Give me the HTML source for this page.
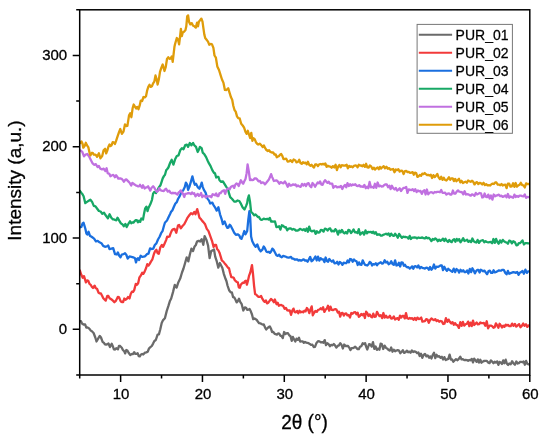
<!DOCTYPE html>
<html><head><meta charset="utf-8"><style>
html,body{margin:0;padding:0;background:#fff;width:550px;height:443px;overflow:hidden}
svg{display:block}
</style></head><body>
<svg width="550" height="443" viewBox="0 0 550 443"><rect width="550" height="443" fill="#fff"/><defs><clipPath id="c"><rect x="79.7" y="9.8" width="450.09999999999997" height="365.2"/></clipPath></defs><g clip-path="url(#c)" fill="none" stroke-width="2.3" stroke-linejoin="round" stroke-linecap="round"><polyline stroke="#6A6A6A" points="79.7,321.2 79.9,321.2 81.0,321.1 82.0,323.5 83.5,324.5 85.1,324.3 86.3,327.7 87.5,327.5 88.6,328.0 89.7,329.1 90.8,330.6 91.9,331.3 93.6,333.0 95.3,337.5 96.5,341.5 98.1,338.7 99.8,335.9 101.0,337.5 102.7,342.1 103.8,342.7 104.9,344.3 106.1,344.5 107.2,344.3 108.5,343.5 110.0,347.1 111.7,343.7 112.8,346.2 113.9,349.4 115.1,349.5 116.2,348.3 117.9,349.4 119.0,345.8 120.1,346.0 121.8,347.7 122.9,350.0 124.1,351.1 125.2,353.4 126.3,350.0 127.4,350.5 128.6,352.8 130.3,355.0 132.0,353.9 133.1,354.0 134.2,352.2 135.3,353.9 136.5,353.9 137.6,353.2 138.7,356.2 139.8,356.4 141.0,354.5 142.1,354.0 143.2,354.5 145.0,352.6 146.3,352.4 147.7,351.7 149.1,348.3 150.4,347.2 151.8,346.0 153.1,343.6 154.4,341.0 155.8,340.0 157.6,334.6 158.9,334.4 160.3,329.2 161.7,323.0 163.1,320.1 164.9,318.3 166.7,311.1 168.5,305.7 169.8,301.3 171.2,298.5 173.0,292.1 174.8,284.9 176.6,287.6 178.4,282.2 180.2,278.6 182.0,272.5 183.5,268.5 185.1,263.0 186.7,257.4 188.3,261.4 189.9,254.3 191.4,248.7 193.0,251.1 194.6,246.4 195.8,245.0 197.0,241.6 198.6,240.8 200.0,241.5 201.7,239.2 203.3,244.8 204.6,236.1 206.5,240.0 208.1,245.6 209.6,258.2 211.2,251.1 212.8,250.3 214.0,249.4 215.2,256.6 216.8,261.4 218.3,267.7 219.9,263.0 221.1,265.4 222.3,267.7 223.9,274.1 225.5,278.8 226.5,281.3 227.5,285.5 229.1,290.2 230.7,292.4 231.9,292.5 233.1,297.1 234.2,297.4 235.4,299.5 236.6,302.4 237.8,301.1 239.0,298.7 240.2,301.9 241.7,304.2 243.3,310.5 244.9,307.4 246.1,307.8 247.3,309.8 248.4,309.7 249.6,309.0 250.8,311.3 252.0,314.5 253.2,319.2 254.4,318.4 255.6,319.1 256.8,320.0 258.0,321.8 259.1,323.2 260.3,323.3 261.5,324.0 262.6,324.6 263.8,324.5 265.0,327.4 266.2,329.5 267.4,328.3 268.6,327.1 269.8,326.4 271.0,328.7 272.1,332.1 273.3,331.9 274.5,333.6 275.7,334.2 276.9,334.6 278.0,333.5 279.2,333.7 280.5,335.8 281.4,335.9 282.8,338.0 284.1,332.0 285.4,334.0 286.8,333.2 288.0,333.2 289.2,335.3 290.5,336.2 291.7,340.8 292.9,336.9 294.1,339.5 295.3,341.5 296.5,338.6 297.8,339.9 299.0,337.8 300.2,341.6 301.4,341.4 302.6,341.3 303.8,342.9 305.0,341.9 306.2,342.6 307.4,342.9 308.6,343.2 309.9,344.1 311.2,344.9 312.4,344.7 313.7,347.0 315.0,346.8 316.5,342.9 318.0,341.2 319.5,341.4 320.8,342.4 322.1,342.1 323.4,342.8 324.7,340.1 326.0,345.1 327.3,343.2 328.6,344.1 329.9,346.2 331.2,344.9 332.5,345.3 333.8,344.0 335.1,345.6 336.4,347.5 337.7,345.9 339.0,345.4 340.3,343.2 341.6,344.9 342.9,348.5 344.2,344.5 345.5,346.1 346.8,345.9 348.0,346.0 349.2,347.6 350.4,350.1 351.6,348.2 352.8,348.1 354.0,347.7 355.2,346.7 356.4,347.9 357.6,349.2 358.8,349.1 360.0,346.8 361.3,346.2 362.7,343.2 364.0,344.1 365.1,343.1 366.2,346.8 367.3,349.5 369.1,344.1 370.4,344.6 371.7,346.6 373.0,342.2 374.3,348.9 375.6,346.5 376.9,349.9 378.2,348.6 379.4,349.7 380.6,343.7 381.8,344.1 383.2,349.0 384.6,345.6 385.9,347.7 387.3,348.6 388.6,350.0 389.9,350.6 391.2,347.5 392.5,351.7 393.8,349.7 395.1,351.3 396.4,350.5 397.7,350.1 399.0,350.6 400.3,353.2 401.6,352.0 402.9,350.2 404.2,352.9 405.5,352.3 406.8,350.6 408.1,352.2 409.4,351.6 410.6,352.7 411.9,350.4 413.2,352.0 414.5,351.4 415.8,351.8 417.1,353.1 418.4,352.5 419.7,356.0 421.0,353.8 422.3,357.8 423.6,355.0 425.0,353.9 426.4,356.4 427.7,355.4 429.1,357.7 430.3,356.4 431.5,358.5 432.7,355.0 434.0,352.7 435.3,358.2 436.6,354.8 437.9,356.6 439.2,356.1 440.5,357.8 441.8,356.8 443.1,359.5 444.4,357.1 445.7,360.1 447.0,359.4 448.3,358.9 449.6,354.6 450.9,359.5 452.1,359.5 453.3,361.8 454.5,360.5 456.0,359.1 457.5,360.2 459.0,358.6 460.3,356.7 461.6,359.4 462.9,359.2 464.3,360.1 465.6,359.9 466.9,360.1 468.1,360.8 469.3,360.0 470.5,360.3 471.8,358.9 473.0,362.5 474.2,358.6 475.4,360.1 476.6,361.9 477.8,359.4 479.0,362.6 480.3,359.8 481.5,362.7 482.7,361.7 483.9,361.0 485.3,360.8 486.7,360.8 488.1,362.4 489.5,363.1 490.9,360.4 492.3,361.8 493.5,363.2 494.7,361.8 495.9,362.6 497.2,361.4 498.4,364.8 499.6,361.9 500.8,362.6 502.0,364.0 503.2,360.4 504.4,363.2 505.7,359.7 506.9,363.8 508.1,365.0 509.3,363.5 510.7,364.2 512.1,361.2 513.5,363.4 514.9,364.7 516.3,361.5 517.7,363.5 518.8,363.2 519.9,362.0 521.0,361.8 522.3,362.3 523.6,361.5 524.9,364.7 526.1,360.9 527.4,363.9 528.7,364.3 529.8,364.3"/><polyline stroke="#F23A3A" points="79.7,270.5 79.9,270.5 81.2,274.5 82.7,277.7 84.0,276.1 85.9,282.4 87.1,280.4 88.3,280.8 89.5,283.9 90.7,284.8 91.8,286.8 93.0,288.0 94.6,285.6 95.8,288.2 97.0,288.7 98.6,292.7 99.8,293.4 100.9,293.5 102.1,295.8 103.3,298.2 104.5,299.5 105.7,300.6 107.3,295.9 108.4,296.0 109.6,298.2 110.8,299.0 112.0,299.8 113.2,300.9 114.4,302.2 115.6,301.2 116.8,299.0 117.9,296.9 119.1,297.4 120.7,301.4 121.9,302.0 123.1,302.2 124.3,298.5 125.5,299.8 126.8,298.9 128.0,297.0 129.5,298.5 130.7,294.0 131.9,291.7 133.1,291.9 134.2,290.1 135.8,283.8 137.0,284.8 138.2,283.0 139.4,277.5 140.6,275.9 142.2,272.7 143.3,273.9 144.5,271.9 146.1,268.0 147.3,264.1 148.5,265.6 149.7,263.9 150.9,261.6 152.4,259.3 154.0,253.7 155.2,251.0 156.4,249.8 157.6,253.1 158.8,253.7 160.3,247.4 161.9,245.0 163.1,246.9 164.3,244.2 166.1,240.1 167.2,236.7 168.4,236.8 169.5,236.5 170.6,233.4 171.8,230.6 172.9,229.4 174.6,228.9 176.3,232.8 178.0,225.5 179.1,224.9 180.8,228.3 182.5,226.0 184.2,224.3 185.9,221.0 187.6,217.6 189.3,215.3 191.0,213.1 192.7,214.2 194.3,211.9 195.5,214.2 197.2,209.1 198.3,213.1 199.4,217.6 201.1,219.3 202.2,220.9 203.4,222.1 205.1,224.3 206.8,228.9 208.5,231.1 210.1,235.6 212.0,240.8 213.6,247.0 214.8,244.9 216.0,244.8 217.2,249.2 218.3,250.3 219.5,252.7 220.7,256.6 221.9,260.6 223.1,261.4 224.7,263.4 226.3,265.3 228.0,267.7 229.0,268.3 230.0,272.5 231.3,277.1 232.7,277.3 233.7,277.7 234.7,280.0 235.8,281.2 236.8,282.0 237.8,282.3 238.8,287.4 239.8,287.8 240.8,284.7 241.9,283.4 242.9,282.7 243.9,283.0 244.9,281.3 245.9,280.7 246.9,284.7 247.9,281.0 249.0,275.9 250.3,272.5 252.0,265.1 253.0,273.9 254.1,286.1 255.1,294.2 256.1,294.5 257.1,295.6 258.5,296.9 259.8,296.9 261.1,296.0 262.3,298.7 263.5,300.6 264.7,301.9 265.9,300.4 267.0,303.4 268.2,302.7 269.4,301.1 271.0,299.0 272.6,300.3 273.8,302.2 274.9,299.5 276.5,304.2 277.7,302.8 278.9,305.8 280.0,305.1 281.2,305.0 282.2,305.6 283.2,305.9 284.6,308.7 285.9,307.9 287.2,310.3 288.6,310.5 289.8,310.5 291.0,314.8 292.2,310.8 293.5,308.6 294.7,312.2 295.9,312.3 297.1,310.9 298.3,313.3 299.5,310.7 300.8,312.4 302.0,311.6 303.2,312.3 304.4,310.7 305.6,311.4 306.9,308.0 308.1,309.7 309.3,313.1 310.5,309.5 311.7,306.4 312.8,315.3 314.0,313.0 315.4,311.0 316.8,311.8 318.1,309.8 319.5,309.5 320.7,308.3 321.9,309.4 323.1,307.3 324.4,311.9 325.6,309.6 326.8,308.6 328.0,305.7 329.2,310.7 330.5,306.7 331.7,309.9 332.9,310.1 334.1,309.5 335.3,309.1 336.5,309.6 337.8,312.6 339.0,311.7 340.2,316.7 341.4,313.2 342.6,312.9 343.8,315.6 345.0,313.6 346.2,313.5 347.4,315.3 348.6,315.0 350.0,317.5 351.3,313.0 352.6,313.7 354.0,312.3 355.2,312.1 356.4,314.3 357.6,312.6 358.8,316.8 360.0,315.9 361.2,314.0 362.4,315.2 363.6,313.9 364.9,318.0 366.1,311.6 367.3,313.2 368.5,316.0 369.7,314.4 370.9,316.5 372.1,317.4 373.3,313.7 374.5,316.8 375.7,316.7 377.0,311.9 378.2,314.1 379.5,316.1 380.8,315.1 382.1,318.1 383.4,313.0 384.7,317.7 386.0,315.7 387.3,317.7 388.6,317.4 389.9,315.8 391.2,318.5 392.5,318.3 393.8,316.5 395.1,319.5 396.4,318.6 397.6,318.1 398.8,319.8 400.0,315.6 401.2,317.6 402.4,316.0 403.6,315.9 404.8,318.4 406.0,313.1 407.2,318.2 408.5,318.8 409.7,318.0 410.9,318.6 412.2,318.2 413.5,319.8 414.8,317.9 416.1,320.0 417.4,317.6 418.7,319.1 420.0,318.6 421.2,317.5 422.4,321.6 423.6,321.4 424.9,321.2 426.2,319.1 427.5,319.5 428.8,322.9 430.1,320.0 431.4,318.5 432.7,319.5 434.0,320.2 435.3,319.1 436.6,321.1 437.9,320.3 439.2,321.7 440.5,321.0 441.8,321.4 443.2,324.0 444.5,323.6 445.9,318.2 447.3,321.9 448.6,319.6 450.0,322.0 451.3,323.5 452.5,322.1 453.8,324.7 455.1,323.1 456.3,324.9 457.6,325.4 458.9,327.9 460.3,322.2 461.6,325.9 462.9,321.9 464.2,325.6 465.6,324.2 466.9,323.7 468.1,321.6 469.3,326.1 470.5,322.7 471.8,326.1 473.0,320.6 474.2,325.0 475.4,323.7 476.6,322.5 477.8,324.3 479.0,324.2 480.3,322.5 481.5,323.1 482.7,323.1 483.9,322.9 485.3,325.8 486.7,321.3 488.1,328.3 489.5,325.7 490.9,325.6 492.3,326.2 493.5,327.7 494.7,327.1 495.9,323.4 497.2,325.4 498.4,327.7 499.6,323.8 500.8,325.4 502.0,327.5 503.2,325.6 504.4,326.9 505.7,324.6 506.9,325.5 508.1,324.9 509.3,326.2 510.7,326.2 512.1,323.6 513.5,325.8 514.9,323.9 516.3,326.6 517.7,325.4 519.1,324.1 520.5,327.2 521.8,325.9 523.2,323.5 524.6,325.8 526.0,324.3 527.3,326.9 528.7,325.4 529.8,325.4"/><polyline stroke="#1A6FDF" points="79.7,227.3 81.4,226.8 82.5,223.5 83.6,222.8 85.3,228.5 86.4,233.6 87.5,234.5 88.6,231.8 90.0,235.9 91.2,236.5 92.3,237.3 94.1,238.6 95.9,241.4 97.7,240.9 99.5,242.3 101.4,243.2 103.2,245.9 105.0,246.8 106.8,246.4 108.2,245.5 109.5,249.1 111.4,248.6 113.2,248.2 115.0,254.1 116.8,254.5 117.9,252.4 119.1,255.5 120.5,257.3 121.8,254.5 123.6,254.1 125.0,253.2 126.4,255.0 127.7,258.6 129.5,256.4 131.4,256.8 133.2,257.3 135.0,258.2 136.0,262.4 137.0,259.0 138.0,258.3 139.0,260.0 140.6,255.8 142.2,256.9 143.8,256.7 145.3,256.1 146.9,254.2 148.5,253.7 150.1,248.4 151.6,249.0 153.2,248.7 154.8,245.0 156.4,243.4 158.0,239.5 159.6,236.7 161.1,233.2 162.5,231.2 163.9,226.0 165.0,222.5 166.1,221.5 167.2,220.1 168.4,217.5 170.1,214.0 171.2,211.6 172.3,210.5 174.0,206.5 175.4,203.5 176.8,202.1 178.0,199.0 179.7,196.1 181.4,192.2 183.1,190.5 184.8,187.1 185.9,182.6 187.0,184.3 188.1,189.9 189.3,187.1 191.0,181.4 192.4,176.4 193.8,182.0 194.9,184.8 196.0,183.7 197.7,187.1 199.4,188.8 200.6,186.0 201.7,182.6 202.8,187.1 203.9,189.9 205.6,192.7 207.3,198.4 209.0,200.6 210.2,203.5 211.3,202.9 212.4,202.7 213.5,205.1 215.0,207.3 216.7,210.6 218.4,207.3 220.1,214.6 221.8,219.7 222.9,224.2 224.6,221.4 226.3,225.9 227.4,227.8 228.5,227.6 229.7,224.8 230.8,225.9 232.5,229.3 234.2,232.7 235.9,234.9 237.6,234.3 239.3,235.5 240.4,238.0 241.5,238.9 243.2,234.3 244.3,231.0 245.5,234.3 247.2,231.0 248.3,219.7 249.4,211.2 250.2,217.4 251.1,236.6 252.2,241.1 253.9,244.5 255.6,246.8 257.3,244.5 259.0,249.0 260.7,251.3 262.4,249.6 263.7,246.5 265.0,248.5 266.4,251.6 267.9,252.2 268.9,251.7 270.0,252.9 271.1,251.5 272.3,248.6 273.6,249.9 275.0,252.5 276.4,255.3 277.7,255.9 279.1,254.6 280.4,256.5 281.8,257.3 283.2,255.9 284.6,256.3 285.9,256.8 287.2,257.4 288.6,257.7 289.8,257.3 291.0,256.9 292.2,258.7 293.5,258.7 294.7,259.7 295.9,259.5 297.2,259.3 298.5,260.6 299.8,259.9 301.1,260.7 302.4,259.9 303.7,259.4 305.0,260.5 306.3,260.4 307.6,261.7 308.9,259.4 310.2,256.9 311.5,261.2 312.8,260.3 314.1,258.6 315.4,256.5 316.7,260.5 318.0,256.7 319.3,260.6 320.6,258.2 321.9,259.4 323.2,259.5 324.4,262.1 325.6,257.5 326.9,261.0 328.1,261.7 329.3,259.0 330.5,260.5 331.9,261.7 333.2,260.4 334.5,263.4 335.9,263.2 337.2,261.8 338.5,264.5 339.8,262.0 341.1,262.9 342.4,264.8 343.7,262.6 345.0,263.2 346.3,263.2 347.6,260.5 348.9,262.3 350.1,259.0 351.4,259.4 352.7,261.7 354.0,259.5 355.2,260.7 356.5,261.2 357.7,265.0 359.0,262.4 360.2,264.7 361.5,264.8 362.7,260.3 364.0,263.2 365.1,264.9 366.2,265.2 367.3,265.5 368.5,264.3 369.7,261.9 370.9,262.7 372.1,265.5 373.3,264.1 374.5,264.5 375.8,263.2 377.0,265.2 378.2,263.6 379.5,263.0 380.8,262.3 382.1,263.6 383.4,263.1 384.7,260.2 386.0,262.5 387.3,261.8 388.6,264.2 389.9,263.5 391.2,261.3 392.5,264.0 393.8,264.9 395.1,260.4 396.4,265.5 397.7,265.1 398.9,262.8 400.2,266.5 401.4,262.4 402.7,262.7 403.9,265.8 405.0,264.8 406.1,266.5 407.3,267.3 408.5,267.1 409.7,268.6 410.9,267.6 412.1,266.4 413.3,268.7 414.5,266.4 415.8,266.2 417.1,267.5 418.4,265.4 419.7,268.4 421.0,266.9 422.3,267.8 423.6,268.2 424.9,268.6 426.2,267.7 427.5,267.9 428.8,269.7 430.1,267.0 431.4,269.7 432.7,268.2 434.0,264.5 435.3,268.6 436.6,266.7 437.9,266.9 439.2,266.2 440.5,265.4 441.8,265.5 443.0,270.1 444.3,266.7 445.5,269.0 446.9,270.9 448.2,268.8 449.5,269.8 450.9,270.9 452.3,271.9 453.7,268.6 455.1,272.2 456.5,269.0 457.9,270.2 459.2,272.6 460.5,269.8 461.9,271.5 463.2,270.2 464.5,272.1 465.8,272.1 467.1,270.5 468.4,273.5 469.8,268.9 471.1,272.1 472.4,268.3 473.7,270.5 474.9,273.4 476.0,271.3 477.2,269.9 478.4,269.8 479.6,272.5 480.8,269.7 482.0,270.4 483.2,271.3 484.5,270.6 485.8,272.6 487.1,274.2 488.5,271.1 489.8,270.7 491.1,272.9 492.4,272.9 493.6,270.3 494.9,272.4 496.1,272.0 497.4,271.3 498.7,270.3 499.9,270.6 501.2,270.6 502.4,269.8 503.7,269.8 505.3,272.9 506.6,274.3 507.9,270.9 509.2,273.7 510.6,273.1 511.9,272.7 513.2,272.1 514.5,272.4 515.8,272.8 517.2,271.9 518.5,274.9 519.8,272.7 521.1,272.1 522.5,271.0 523.9,273.7 525.4,269.6 526.8,272.9 528.2,271.3 529.8,271.3"/><polyline stroke="#17A865" points="79.7,190.6 81.4,192.9 82.5,194.3 83.6,196.3 85.3,203.1 87.0,201.9 88.7,200.8 90.4,199.7 92.1,201.9 93.8,205.9 95.5,206.4 97.2,208.7 98.9,211.0 100.6,211.5 102.3,213.8 104.0,212.7 105.1,214.5 106.2,216.0 107.9,218.3 109.6,214.3 111.3,217.7 113.0,219.4 114.1,219.4 115.2,220.0 116.3,220.3 117.5,217.7 119.2,220.6 120.9,223.4 122.6,224.5 123.7,226.2 125.4,223.9 126.7,227.1 128.0,224.5 129.0,222.8 130.0,221.3 131.2,223.2 132.3,222.4 133.4,222.7 134.5,221.3 135.7,220.2 136.8,220.1 137.9,222.2 139.0,220.7 140.2,221.9 141.3,218.5 143.0,219.6 144.1,213.4 145.2,208.3 146.4,206.6 147.5,211.1 148.6,207.7 150.3,204.3 152.0,199.8 153.1,193.6 154.3,191.9 156.0,193.1 157.7,189.7 158.8,187.4 160.5,185.2 161.6,181.8 162.7,178.4 163.9,176.1 165.0,174.7 166.2,170.3 167.3,169.0 168.4,167.5 169.5,164.5 170.4,162.2 171.7,159.8 173.4,164.6 175.1,159.3 176.8,156.0 178.5,155.4 180.2,150.3 181.9,148.1 183.5,149.2 185.2,145.2 186.9,144.7 188.1,146.9 189.8,143.0 191.4,145.2 193.1,143.0 194.3,145.2 196.0,146.9 197.7,152.0 198.8,149.8 199.9,146.9 201.6,148.1 202.7,152.6 204.4,154.3 206.1,157.1 207.8,161.0 209.0,163.4 210.6,166.1 212.3,170.1 214.0,172.9 215.0,173.4 216.2,177.5 217.3,176.8 218.4,176.8 219.5,180.2 221.2,181.9 222.9,181.3 224.6,184.1 226.3,186.9 228.0,189.2 229.1,193.7 230.2,197.1 231.9,198.8 233.1,200.1 234.2,201.6 236.0,201.5 237.6,200.5 239.3,201.0 241.0,203.9 242.7,207.5 244.5,209.5 246.0,206.1 247.2,203.0 247.7,199.3 248.9,195.4 250.0,201.6 251.1,211.8 252.8,213.5 254.2,215.4 255.6,214.5 256.8,215.8 257.9,217.0 259.0,216.9 260.1,219.1 261.2,219.8 262.4,219.7 263.7,218.7 265.0,219.1 266.2,219.2 267.4,218.8 268.6,219.5 269.8,217.9 271.1,221.7 272.3,221.4 273.6,221.6 275.0,221.4 276.4,227.1 277.7,226.8 279.1,226.3 280.4,229.6 281.8,225.3 283.2,225.9 284.6,227.3 285.9,227.2 287.2,230.4 288.6,228.6 289.8,228.5 291.0,228.5 292.2,229.6 293.5,229.0 294.7,229.5 295.9,230.5 297.3,230.6 298.6,230.1 300.0,228.8 301.4,229.5 302.7,230.1 304.0,229.1 305.3,230.8 306.6,228.5 307.9,231.7 309.2,226.6 310.5,230.5 311.8,231.4 313.1,230.9 314.4,230.6 315.6,233.9 316.9,231.3 318.2,232.6 319.5,232.3 320.9,229.9 322.2,230.1 323.6,231.6 325.0,228.6 326.3,229.0 327.6,230.6 328.9,228.9 330.2,228.4 331.5,231.4 332.8,230.7 334.1,231.4 335.4,229.1 336.7,230.8 338.0,234.6 339.3,230.7 340.6,232.4 341.9,229.9 343.2,232.3 344.5,233.4 345.8,232.0 347.1,233.5 348.4,229.9 349.7,230.4 351.0,233.0 352.3,231.4 353.6,229.5 354.9,232.3 356.2,232.1 357.5,233.1 358.8,229.2 360.1,234.6 361.4,233.2 362.8,232.2 364.1,234.6 365.5,230.4 366.8,233.4 368.2,231.9 369.5,232.1 370.9,231.8 372.1,233.0 373.3,231.6 374.5,233.6 375.8,232.2 377.0,234.8 378.2,234.5 379.5,234.4 380.8,235.6 382.1,235.5 383.4,234.7 384.7,234.3 386.0,233.7 387.3,234.5 388.6,233.5 389.9,236.0 391.2,233.6 392.5,235.4 393.8,235.9 395.1,233.8 396.4,235.5 397.8,237.7 399.1,233.9 400.5,236.0 401.9,237.8 403.2,236.6 404.6,237.0 405.9,237.0 407.3,237.3 408.5,238.6 409.7,235.9 410.9,239.0 412.1,237.6 413.3,237.7 414.5,237.3 415.8,237.6 417.1,238.4 418.4,237.5 419.7,237.8 421.0,237.9 422.3,237.4 423.6,238.2 424.9,238.5 426.2,237.1 427.5,238.3 428.8,237.8 430.1,239.2 431.4,241.1 432.7,239.0 434.0,239.7 435.3,238.4 436.6,239.5 437.9,241.2 439.2,239.6 440.5,240.9 441.8,240.0 443.0,238.6 444.3,241.0 445.5,238.8 446.8,240.8 448.0,242.0 449.3,239.9 450.5,241.5 451.7,242.1 453.0,239.9 454.2,239.1 455.4,241.8 456.7,238.9 457.9,240.5 459.2,239.1 460.5,242.3 461.9,240.3 463.2,238.2 464.5,241.0 465.8,240.5 467.1,239.7 468.4,241.9 469.8,240.8 471.1,242.1 472.4,238.5 473.7,241.3 475.0,242.1 476.3,242.5 477.6,239.9 479.0,242.9 480.3,241.0 481.6,240.5 482.9,240.2 484.2,242.2 485.6,241.2 486.9,242.0 488.2,242.3 489.5,242.1 490.8,242.0 492.1,243.3 493.4,239.0 494.8,242.9 496.1,238.9 497.4,242.1 498.7,243.7 500.0,240.4 501.4,242.6 502.7,239.9 504.0,241.3 505.3,242.1 506.6,242.5 507.9,243.7 509.2,240.6 510.6,241.1 511.9,243.3 513.2,241.3 514.8,242.1 516.4,245.3 517.6,245.1 518.8,243.2 519.9,243.1 521.1,242.1 522.5,240.4 523.9,244.5 525.4,243.1 526.8,243.1 528.2,243.4 529.8,243.4"/><polyline stroke="#C070E0" points="79.7,150.3 80.4,150.3 82.3,151.8 84.0,156.3 85.6,154.6 87.3,154.0 89.0,156.3 90.7,159.7 92.4,163.1 94.1,164.8 95.8,164.2 97.5,167.0 98.9,166.0 100.3,168.7 102.0,169.3 103.7,168.7 105.4,171.0 106.6,168.2 107.7,173.2 109.3,173.8 110.4,176.3 111.6,175.5 113.3,174.9 115.0,177.2 116.1,175.2 117.2,176.6 118.3,178.7 119.5,178.3 120.7,178.5 121.8,178.9 122.9,180.3 124.0,181.7 125.2,179.9 126.3,179.4 128.0,181.1 129.0,182.1 130.0,183.4 131.2,185.5 132.3,182.9 133.4,183.5 134.5,184.6 135.7,185.3 136.8,185.7 137.9,186.4 139.0,186.3 140.0,184.8 141.0,186.3 142.0,187.7 143.0,185.2 144.7,188.5 145.8,187.5 146.9,187.4 148.1,186.3 149.2,188.5 150.3,190.6 151.4,188.0 153.1,186.3 154.2,187.5 155.4,189.7 156.8,191.9 158.2,190.8 159.3,188.3 160.5,190.2 161.6,190.6 162.7,190.8 163.8,191.0 165.0,189.5 166.1,188.8 167.8,191.6 169.2,190.8 170.6,192.7 171.7,193.4 172.9,192.7 174.0,193.3 175.2,192.8 176.3,193.9 177.4,194.6 178.5,192.7 179.7,191.6 180.8,190.4 182.0,192.5 183.1,193.8 184.2,197.0 185.3,193.9 186.8,193.6 188.3,193.0 189.8,193.3 190.9,194.1 192.1,192.5 193.2,193.9 194.3,193.3 195.5,196.4 196.6,195.0 197.7,193.9 198.9,195.9 200.0,195.0 201.1,193.0 202.3,197.1 203.4,195.6 204.5,195.6 205.7,197.5 206.8,196.1 207.9,196.4 209.0,196.4 210.1,196.1 211.3,197.2 212.6,194.3 213.8,194.7 215.0,195.3 216.2,193.5 217.3,196.0 218.4,196.2 219.5,193.1 220.7,193.2 221.8,191.4 222.9,190.8 224.0,190.3 225.2,193.8 226.3,190.3 227.4,188.7 228.5,188.6 229.7,189.3 230.8,186.9 231.9,186.3 233.1,185.8 234.2,187.9 235.3,184.7 236.4,183.5 237.6,184.1 238.7,186.0 239.8,183.0 240.9,180.2 242.1,182.4 243.2,183.7 244.3,181.3 245.5,179.0 246.6,173.4 247.6,164.5 248.9,172.0 250.0,180.2 251.1,179.4 252.2,180.2 253.3,179.9 254.5,178.5 255.7,178.3 256.8,179.0 258.5,181.3 260.0,181.0 261.2,183.1 262.4,182.4 263.6,182.6 264.9,184.4 266.3,182.8 267.7,181.0 268.9,179.5 270.0,177.1 271.1,174.2 272.2,177.1 273.9,181.0 275.2,180.7 276.6,180.3 277.9,181.6 279.3,183.7 280.7,182.1 282.1,182.8 283.5,183.3 284.9,181.5 286.3,183.7 287.7,186.9 289.1,183.8 290.4,185.7 291.6,185.4 292.9,184.3 294.2,185.0 295.5,184.4 296.7,186.4 298.0,185.5 299.3,186.4 300.7,186.8 302.0,183.9 303.3,185.5 304.6,183.9 306.0,186.0 307.3,183.6 308.6,183.1 309.9,186.0 311.2,187.3 312.5,183.0 313.8,184.5 315.1,186.7 316.4,184.5 317.6,182.5 318.9,183.3 320.1,181.4 321.4,184.7 322.6,184.8 323.9,181.9 325.1,180.2 326.4,181.8 327.5,182.8 328.7,181.7 329.9,183.7 331.0,183.6 332.2,183.6 333.3,187.8 334.5,186.4 335.8,186.2 337.1,187.4 338.4,186.9 339.7,187.0 341.0,185.9 342.3,189.0 343.6,186.4 344.9,184.9 346.2,187.3 347.5,183.2 348.8,186.0 350.1,184.2 351.4,185.6 352.7,184.5 354.0,185.0 355.3,184.3 356.6,185.8 357.9,186.0 359.2,185.1 360.5,186.7 361.8,186.4 363.1,187.0 364.4,184.9 365.7,188.2 367.0,186.7 368.3,188.2 369.6,181.9 370.9,187.3 372.2,186.9 373.6,187.8 374.9,183.8 376.3,187.8 377.6,182.5 379.0,186.4 380.3,185.6 381.6,186.5 382.9,186.4 384.2,185.0 385.5,184.4 386.8,184.5 388.1,187.2 389.4,185.7 390.6,189.1 391.9,185.7 393.2,188.2 394.5,189.4 395.8,187.9 397.1,190.6 398.4,189.6 399.7,188.3 401.0,191.0 402.3,189.1 403.6,187.9 404.9,187.9 406.2,187.0 407.5,192.9 408.8,189.4 410.1,189.8 411.4,190.0 412.7,189.2 414.0,191.0 415.3,189.1 416.6,192.1 417.9,190.4 419.2,191.4 420.5,190.9 421.8,193.9 423.1,191.1 424.4,190.2 425.6,194.5 426.9,189.5 428.2,194.3 429.5,192.7 430.8,192.2 432.1,192.3 433.4,193.3 434.7,192.0 436.0,192.4 437.3,191.8 438.6,191.8 439.9,192.3 441.2,190.0 442.5,192.9 443.8,192.9 445.1,192.6 446.4,194.6 447.7,193.6 449.0,193.4 450.3,194.5 451.6,194.5 452.9,190.5 454.1,193.6 455.4,193.7 456.7,191.6 458.0,190.4 459.3,191.7 460.6,192.0 461.9,192.2 463.3,194.3 464.6,191.2 465.9,194.5 467.1,194.2 468.3,194.3 469.5,195.1 470.8,195.7 472.0,194.3 473.2,194.8 474.5,195.8 475.8,192.9 477.1,194.4 478.4,193.8 479.7,193.0 481.0,193.3 482.2,197.5 483.4,197.2 484.6,193.5 485.8,196.6 487.0,197.1 488.3,194.6 489.7,198.5 491.0,195.5 492.4,199.6 493.7,194.5 495.1,196.3 496.4,195.6 497.7,195.1 498.9,194.7 500.2,196.1 501.5,195.7 502.7,196.9 504.0,196.4 505.3,195.5 506.6,197.3 507.9,194.0 509.2,197.7 510.5,196.4 511.8,197.1 513.1,197.7 514.4,194.6 515.6,197.0 516.9,196.0 518.2,196.9 519.5,195.6 520.8,195.6 522.2,196.1 523.5,196.4 524.8,194.5 526.1,197.9 527.5,197.0 528.8,197.1 529.8,197.1"/><polyline stroke="#DF9C0A" points="79.7,143.0 80.4,143.0 81.5,141.5 82.5,143.5 83.3,147.7 84.7,145.9 85.8,142.8 86.9,145.2 88.4,147.4 89.5,152.6 90.5,155.4 91.6,152.9 92.7,152.8 93.8,154.7 94.9,154.6 96.0,155.1 97.1,156.8 98.9,153.2 100.4,158.3 102.2,156.1 103.6,150.3 105.1,148.8 106.2,153.4 107.3,150.6 108.4,146.8 109.5,144.5 110.5,146.0 111.6,145.2 112.7,142.1 113.8,142.3 114.9,144.0 116.0,141.2 117.9,135.3 119.1,132.0 120.3,129.0 121.9,133.8 123.5,131.6 125.0,124.3 126.2,126.0 127.4,125.9 129.0,115.6 130.2,113.2 131.4,117.2 132.6,108.3 133.7,104.5 134.9,106.6 136.1,108.5 137.3,106.9 138.5,109.2 139.7,105.4 140.8,100.6 142.1,101.0 143.5,97.0 144.8,97.4 146.0,96.2 147.2,90.3 148.3,86.9 149.5,84.7 150.7,86.9 151.9,86.3 153.1,83.4 154.3,81.6 155.5,75.5 156.6,79.0 157.6,84.5 158.8,79.6 160.0,71.8 161.3,67.9 162.7,64.5 164.5,71.0 165.7,67.2 167.0,59.0 168.2,57.3 169.4,58.8 170.6,58.7 171.8,56.4 172.7,61.8 174.5,46.4 175.0,44.3 176.8,38.0 178.0,39.5 179.1,44.3 180.0,37.1 180.9,29.0 181.8,36.2 182.7,32.6 184.0,31.7 185.4,30.3 186.3,26.3 187.2,16.3 188.1,15.4 189.0,21.7 190.3,24.4 191.7,23.1 193.1,25.8 194.4,26.3 195.8,27.6 197.1,22.6 198.0,26.3 198.9,21.7 200.3,19.9 201.4,18.6 202.5,21.7 203.4,28.1 204.3,34.4 205.2,38.0 206.6,39.8 208.0,41.6 209.3,44.8 210.7,43.9 212.0,44.3 213.4,47.9 214.5,55.5 215.9,57.7 217.3,66.4 219.0,70.0 220.5,74.9 222.0,79.5 223.5,82.9 224.9,89.9 226.4,90.0 228.2,88.2 229.6,92.8 231.0,97.3 232.2,99.7 233.3,105.8 234.5,110.0 235.7,111.6 237.0,116.4 238.2,118.2 239.7,118.5 241.2,123.8 242.7,125.5 244.1,127.6 245.5,131.8 246.7,133.8 247.8,130.8 249.0,134.5 250.2,138.1 251.3,132.8 252.4,140.8 253.6,138.2 254.8,139.4 255.9,142.2 257.1,143.8 258.2,144.5 259.7,143.7 261.2,145.1 262.7,147.0 263.9,145.4 265.2,148.2 266.4,150.0 267.8,151.0 269.1,150.3 270.4,151.9 271.8,152.5 273.1,152.4 274.5,154.5 275.6,154.3 276.8,157.3 277.9,156.5 279.0,156.1 280.1,154.8 281.2,154.0 282.3,155.8 283.5,159.2 284.6,159.0 286.1,158.6 287.6,161.6 289.1,161.3 290.6,160.3 292.1,162.1 293.6,159.5 295.1,160.2 296.5,162.4 298.0,161.8 299.2,159.8 300.5,163.0 301.8,163.9 303.0,162.2 304.2,163.1 305.5,162.7 306.7,164.4 307.9,161.8 309.1,164.6 310.3,165.8 311.5,164.8 312.7,166.4 314.0,167.5 315.3,164.3 316.6,164.3 317.9,166.1 319.2,164.3 320.5,164.0 321.8,164.5 323.0,163.8 324.2,164.5 325.4,163.5 326.6,166.8 327.8,165.7 329.0,166.4 330.3,166.6 331.6,167.7 332.9,166.1 334.3,167.5 335.6,164.8 336.9,170.1 338.2,166.4 339.4,164.9 340.6,167.3 341.9,165.2 343.1,165.5 344.3,165.7 345.5,165.5 346.7,164.8 347.9,168.3 349.1,165.9 350.3,166.9 351.5,166.4 352.7,167.3 353.9,165.9 355.1,165.5 356.4,165.6 357.6,167.3 358.8,164.8 360.0,165.5 361.2,165.5 362.4,166.3 363.6,164.8 364.9,166.9 366.1,163.8 367.3,167.3 368.6,167.5 369.9,165.5 371.2,166.4 372.5,169.1 373.8,167.7 375.1,169.5 376.4,168.2 377.6,167.5 378.8,169.2 379.9,166.9 381.1,168.5 382.3,167.3 383.7,166.2 385.0,168.3 386.4,166.8 387.8,168.7 389.1,168.1 390.5,169.8 391.8,169.3 393.2,169.0 394.5,172.3 395.8,169.5 397.1,170.2 398.4,169.2 399.7,171.6 401.0,170.6 402.3,170.9 403.6,174.1 404.9,171.1 406.2,171.0 407.5,172.0 408.8,171.8 410.1,172.9 411.4,172.7 412.6,172.1 413.8,174.7 415.0,172.6 416.2,173.0 417.4,176.8 418.6,176.4 419.8,174.9 421.1,175.8 422.3,173.6 423.5,174.1 424.7,173.0 425.9,174.2 427.1,175.2 428.3,174.9 429.5,175.5 430.8,174.8 432.1,178.0 433.4,175.1 434.7,177.1 436.0,175.7 437.3,174.0 438.6,177.3 439.9,179.1 441.2,176.8 442.5,179.9 443.8,177.8 445.1,180.0 446.4,180.5 447.7,179.0 448.9,177.3 450.2,179.7 451.4,178.3 452.7,178.3 453.9,181.1 455.2,178.9 456.4,181.2 457.7,180.1 459.0,178.8 460.3,182.4 461.6,180.8 462.9,183.0 464.2,182.2 465.5,181.7 466.8,182.7 468.1,180.5 469.4,181.2 470.6,181.8 471.9,180.8 473.2,181.7 474.5,184.4 475.8,182.8 477.0,182.1 478.3,184.1 479.6,182.8 480.9,183.2 482.2,184.5 483.6,182.8 484.9,185.1 486.2,184.2 487.5,185.3 488.9,185.2 490.2,185.5 491.4,184.3 492.7,183.6 493.9,184.0 495.2,182.4 496.4,182.5 497.7,184.6 498.9,184.6 500.2,185.3 501.5,184.0 502.7,185.5 504.0,184.8 505.3,184.6 506.6,188.1 507.9,183.7 509.2,183.6 510.5,186.7 511.8,186.3 513.1,183.3 514.4,186.9 515.6,183.0 516.9,186.7 518.2,185.5 519.5,184.8 520.8,182.8 522.2,185.1 523.5,185.4 524.8,187.5 526.1,183.4 527.5,184.1 528.8,184.0 529.8,184.0"/></g><rect x="79.7" y="9.8" width="450.09999999999997" height="365.2" fill="none" stroke="#000" stroke-width="1.5"/><path d="M76.20,375.00H79.70M72.70,329.35H79.70M76.20,283.70H79.70M72.70,238.05H79.70M76.20,192.40H79.70M72.70,146.75H79.70M76.20,101.10H79.70M72.70,55.45H79.70M76.20,9.80H79.70M79.70,375.00V378.50M120.62,375.00V382.00M161.54,375.00V378.50M202.45,375.00V382.00M243.37,375.00V378.50M284.29,375.00V382.00M325.21,375.00V378.50M366.13,375.00V382.00M407.05,375.00V378.50M447.96,375.00V382.00M488.88,375.00V378.50M529.80,375.00V382.00" stroke="#000" stroke-width="1.5" fill="none"/><g font-family="Liberation Sans, Arial, sans-serif" font-size="15" fill="#000" stroke="#000" stroke-width="0.3"><text transform="translate(67.2,334.0) scale(1,1.03)" text-anchor="end">0</text><text transform="translate(67.2,242.7) scale(1,1.03)" text-anchor="end">100</text><text transform="translate(67.2,151.3) scale(1,1.03)" text-anchor="end">200</text><text transform="translate(67.2,60.0) scale(1,1.03)" text-anchor="end">300</text><text transform="translate(121.1,399.0) scale(1,1.03)" text-anchor="middle">10</text><text transform="translate(203.0,399.0) scale(1,1.03)" text-anchor="middle">20</text><text transform="translate(284.8,399.0) scale(1,1.03)" text-anchor="middle">30</text><text transform="translate(366.6,399.0) scale(1,1.03)" text-anchor="middle">40</text><text transform="translate(448.5,399.0) scale(1,1.03)" text-anchor="middle">50</text><text transform="translate(530.3,399.0) scale(1,1.03)" text-anchor="middle">60</text></g><text transform="translate(304.5,428.8) scale(1,1.02)" text-anchor="middle" font-family="Liberation Sans, Arial, sans-serif" font-size="19" fill="#000" stroke="#000" stroke-width="0.3">2θ (°)</text><text transform="translate(20.5,180.5) rotate(-90)" text-anchor="middle" font-family="Liberation Sans, Arial, sans-serif" font-size="19" fill="#000" stroke="#000" stroke-width="0.3">Intensity (a,u.)</text><rect x="417.1" y="24.4" width="95.3" height="108.9" fill="#fff" stroke="#777" stroke-width="1"/><g font-family="Liberation Sans, Arial, sans-serif" font-size="14" fill="#000" stroke="#000" stroke-width="0.25"><line x1="418.8" x2="452.1" y1="34.75" y2="34.75" stroke="#6A6A6A" stroke-width="2"/><text transform="translate(455.6,40.05) scale(1,1.07)">PUR_01</text><line x1="418.8" x2="452.1" y1="52.75" y2="52.75" stroke="#F23A3A" stroke-width="2"/><text transform="translate(455.6,58.05) scale(1,1.07)">PUR_02</text><line x1="418.8" x2="452.1" y1="70.75" y2="70.75" stroke="#1A6FDF" stroke-width="2"/><text transform="translate(455.6,76.05) scale(1,1.07)">PUR_03</text><line x1="418.8" x2="452.1" y1="88.75" y2="88.75" stroke="#17A865" stroke-width="2"/><text transform="translate(455.6,94.05) scale(1,1.07)">PUR_04</text><line x1="418.8" x2="452.1" y1="106.75" y2="106.75" stroke="#C070E0" stroke-width="2"/><text transform="translate(455.6,112.05) scale(1,1.07)">PUR_05</text><line x1="418.8" x2="452.1" y1="124.75" y2="124.75" stroke="#DF9C0A" stroke-width="2"/><text transform="translate(455.6,130.05) scale(1,1.07)">PUR_06</text></g></svg>
</body></html>
